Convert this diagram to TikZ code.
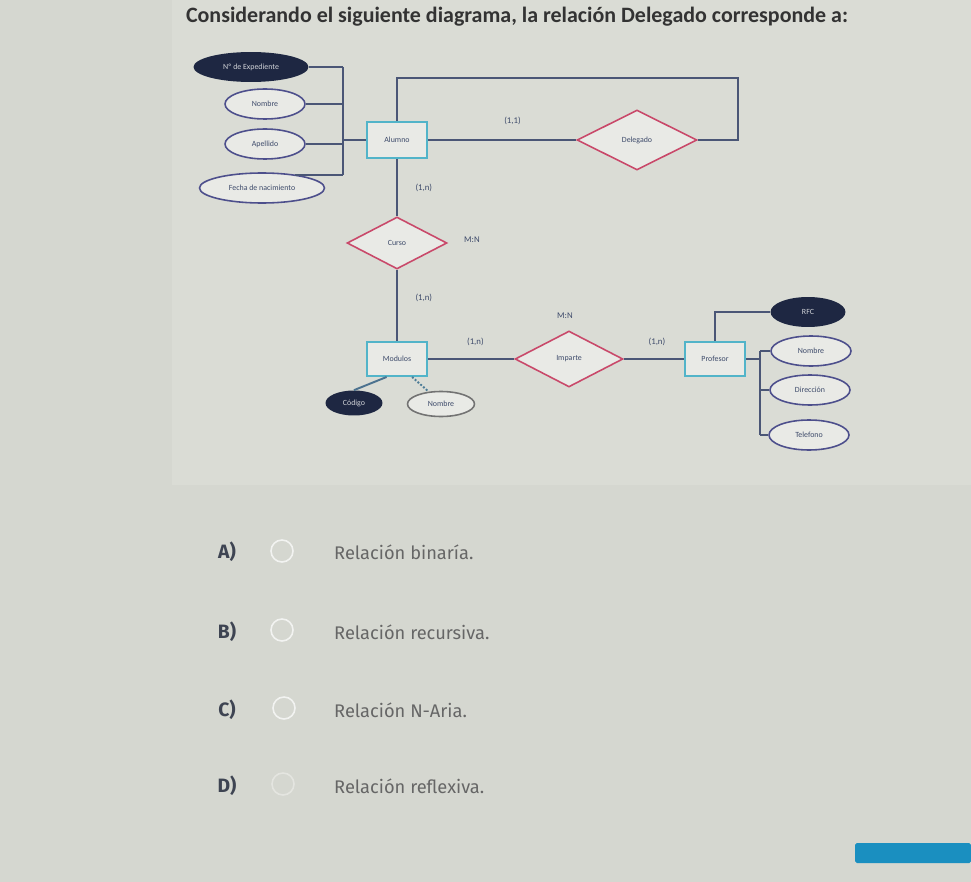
\documentclass[tikz,border=0pt]{standalone}
\usepackage{fontspec}
\setmainfont{Carlito}
\newfontfamily\opcfont{Fira Sans}
\usetikzlibrary{shapes.geometric}
\definecolor{fondo}{RGB}{213,215,208}
\definecolor{panel}{RGB}{218,220,213}
\definecolor{entcol}{RGB}{82,180,201}
\definecolor{relcol}{RGB}{201,73,106}
\definecolor{attcol}{RGB}{77,79,140}
\definecolor{lincol}{RGB}{74,86,118}
\definecolor{oscuro}{RGB}{30,39,66}
\definecolor{txtcol}{RGB}{61,74,106}
\definecolor{letcol}{RGB}{62,68,82}
\definecolor{azulbar}{RGB}{26,143,192}

\begin{document}
\begin{tikzpicture}[x=0.02cm,y=-0.02cm,
  entidad/.style={draw=entcol,line width=1.1pt,fill=panel!60!white,minimum width=1.2cm,minimum height=0.72cm,inner sep=0pt,font=\fontsize{4.5}{5}\selectfont,text=txtcol},
  relacion/.style={diamond,draw=relcol,line width=0.9pt,fill=panel!60!white,inner sep=0pt,font=\fontsize{4.5}{5}\selectfont,text=txtcol},
  atributo/.style={ellipse,draw=attcol,line width=0.9pt,fill=panel!60!white,inner sep=0pt,minimum width=1.6cm,minimum height=0.6cm,font=\fontsize{4.5}{5}\selectfont,text=txtcol},
  clave/.style={ellipse,fill=oscuro,inner sep=0pt,minimum height=0.6cm,font=\fontsize{4.5}{5}\selectfont,text=white!80!oscuro},
  linea/.style={draw=lincol,line width=1.1pt},
  etiqueta/.style={font=\fontsize{5}{6}\selectfont,text=txtcol,inner sep=1pt},
  letra/.style={font=\opcfont\bfseries\fontsize{11}{13}\selectfont,text=letcol},
  opcion/.style={font=\opcfont\fontsize{10.4}{12}\selectfont,text=gray!80!black,anchor=west},
  radio/.style={circle,draw=white!70!fondo,line width=0.9pt,minimum size=0.44cm,inner sep=0pt}]

% fondo
\fill[fondo] (0,0) rectangle (971,882);
\fill[panel] (172,0) rectangle (971,485);
\useasboundingbox (0,0) rectangle (971,882);

\node[font=\bfseries\fontsize{12.5}{14}\selectfont,text=black!80] (pregunta) at (517,17) {Considerando el siguiente diagrama, la relación Delegado corresponde a:};

% entidades
\node[entidad] (alumno) at (397,140) {Alumno};
\node[entidad,minimum height=0.68cm] (modulos) at (397,359) {Modulos};
\node[entidad,minimum height=0.68cm] (profesor) at (715,359) {Profesor};

% relaciones
\node[relacion,minimum width=2.4cm,minimum height=1.2cm] (delegado) at (637,140) {Delegado};
\node[relacion,minimum width=2cm,minimum height=1.04cm] (curso) at (397,243) {Curso};
\node[relacion,minimum width=2.16cm,minimum height=1.12cm] (imparte) at (569,359) {Imparte};

% atributos de Alumno
\node[clave,minimum width=2.3cm] (expediente) at (251,67) {Nº de Expediente};
\node[atributo] (nombreA) at (265,104) {Nombre};
\node[atributo] (apellido) at (265,144) {Apellido};
\node[atributo,minimum width=2.5cm] (fecha) at (262,188) {Fecha de nacimiento};
\coordinate (busA) at (343,140);

\draw[linea] (expediente.east) -- (expediente.east -| busA);
\draw[linea] (nombreA.east) -- (nombreA.east -| busA);
\draw[linea] (apellido.east) -- (apellido.east -| busA);
\draw[linea] (fecha.22) -- (fecha.22 -| busA);
\draw[linea] (expediente.east -| busA) -- (fecha.22 -| busA);
\draw[linea] (busA) -- (alumno.west);

% Delegado
\coordinate (lazo) at (738,78);
\draw[linea] (alumno.east) -- node[etiqueta,pos=0.57,above=7pt] (card1) {(1,1)} (delegado.west);
\draw[linea] (alumno.north) |- (lazo) |- (delegado.east);

% Curso
\draw[linea] (alumno.south) -- node[etiqueta,right=9pt,pos=0.5] (card2) {(1,n)} (curso.north);
\draw[linea] (curso.south) -- node[etiqueta,right=9pt,pos=0.4] (card3) {(1,n)} (modulos.north);
\node[etiqueta] (mn1) at (472,240) {M:N};

% Imparte
\draw[linea] (modulos.east) -- node[etiqueta,pos=0.55,above=6pt] (card4) {(1,n)} (imparte.west);
\draw[linea] (imparte.east) -- node[etiqueta,pos=0.55,above=6pt] (card5) {(1,n)} (profesor.west);
\node[etiqueta] (mn2) at (565,316) {M:N};

% atributos de Modulos
\node[clave,minimum width=1.14cm,minimum height=0.5cm] (codigo) at (354,403) {Código};
\node[atributo,minimum width=1.34cm,minimum height=0.5cm,draw=gray!90!black] (nombreM) at (441,404) {Nombre};
\draw[linea,draw=lincol!70!entcol] (modulos.-120) -- (codigo.north);
\draw[linea,draw=lincol!60!entcol,densely dotted] (modulos.-50) -- (nombreM.135);

% atributos de Profesor
\node[clave,minimum width=1.5cm] (rfc) at (808,312) {RFC};
\node[atributo] (nombreP) at (811,351) {Nombre};
\node[atributo] (direccion) at (810,390) {Dirección};
\node[atributo] (telefono) at (809,435) {Telefono};
\coordinate (busP) at (760,359);
\draw[linea] (profesor.north) |- (rfc.west);
\draw[linea] (profesor.east) -- (busP);
\draw[linea] (nombreP.west) -- (nombreP.west -| busP);
\draw[linea] (direccion.west) -- (direccion.west -| busP);
\draw[linea] (telefono.west) -- (telefono.west -| busP);
\draw[linea] (nombreP.west -| busP) -- (telefono.west -| busP);

% opciones
\node[letra] (letraA) at (227,552) {A)};
\node[letra] (letraB) at (227,632) {B)};
\node[letra] (letraC) at (227,710) {C)};
\node[letra] (letraD) at (227,786) {D)};
\node[radio] (radioA) at (282,551) {};
\node[radio] (radioB) at (282,630) {};
\node[radio] (radioC) at (284,708) {};
\node[radio,draw=white!35!fondo] (radioD) at (283,784) {};
\node[opcion] (opA) at (328,552) {Relación binaría.};
\node[opcion] (opB) at (328,632) {Relación recursiva.};
\node[opcion] (opC) at (328,710) {Relación N-Aria.};
\node[opcion] (opD) at (328,786) {Relación reflexiva.};

\fill[azulbar,rounded corners=1pt] (855,843) rectangle (971,863);
\end{tikzpicture}
\end{document}
